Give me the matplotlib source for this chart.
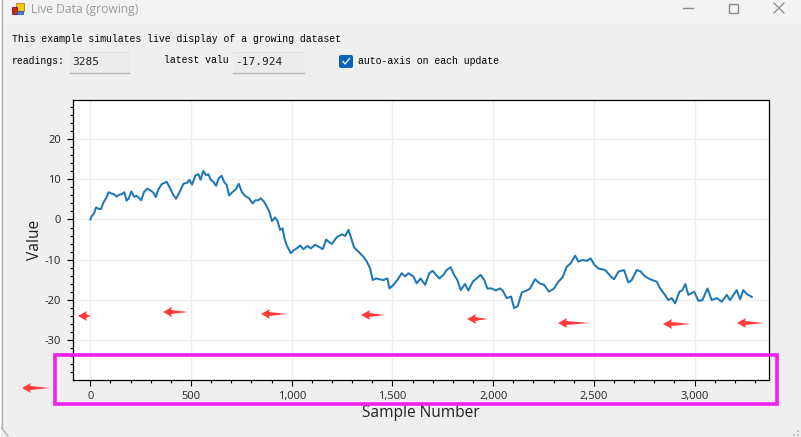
import matplotlib
matplotlib.use("Agg")
import matplotlib.pyplot as plt
from matplotlib.patches import Rectangle, Polygon, FancyBboxPatch
from matplotlib.ticker import MultipleLocator, FuncFormatter

W = 801
H = 437

samples = [0, 8, 18, 28, 40, 53, 65, 78, 91, 104, 118, 131, 144, 157, 169, 180, 190, 204, 217, 230,
           243, 253, 267, 283, 300, 313, 325, 338, 354, 379, 396, 412, 426, 442, 462, 482, 492, 505, 522, 537,
           547, 561, 575, 586, 598, 611, 624, 638, 652, 664, 677, 689, 707, 722, 737, 752, 768, 788, 805, 820,
           835, 846, 863, 876, 889, 902, 917, 929, 942, 954, 964, 975, 995, 1012, 1025, 1042, 1058, 1078, 1095, 1116,
           1138, 1154, 1171, 1182, 1199, 1224, 1249, 1265, 1282, 1293, 1310, 1331, 1356, 1373, 1389, 1402, 1419, 1435, 1455, 1475,
           1485, 1505, 1524, 1546, 1563, 1579, 1604, 1620, 1640, 1662, 1683, 1700, 1716, 1733, 1753, 1769, 1789, 1806, 1822, 1839,
           1860, 1877, 1899, 1918, 1938, 1956, 1971, 1993, 2013, 2034, 2047, 2067, 2089, 2104, 2122, 2142, 2167, 2183, 2208, 2230,
           2253, 2277, 2302, 2324, 2345, 2365, 2385, 2407, 2423, 2443, 2465, 2484, 2503, 2522, 2556, 2584, 2600, 2622, 2650, 2671,
           2688, 2713, 2733, 2754, 2779, 2812, 2829, 2853, 2870, 2887, 2903, 2925, 2938, 2954, 2969, 2998, 3019, 3039, 3064, 3085,
           3110, 3135, 3160, 3176, 3209, 3226, 3242, 3259, 3284]
values = [0.0, 0.9, 1.5, 3.0, 2.7, 2.6, 4.2, 5.3, 6.8, 6.5, 6.3, 5.7, 6.2, 6.3, 6.8, 4.7, 5.2, 7.0, 5.7, 5.9,
          5.3, 4.8, 6.9, 7.7, 7.2, 6.7, 5.6, 7.5, 8.8, 9.4, 7.8, 6.1, 5.2, 6.7, 8.9, 9.2, 9.9, 8.7, 11.0, 11.3,
          9.9, 12.1, 11.0, 11.3, 9.9, 9.4, 8.4, 10.3, 10.9, 9.4, 8.6, 6.0, 6.9, 7.5, 8.9, 6.9, 5.9, 5.3, 4.0, 4.8,
          4.8, 5.3, 4.4, 3.2, 1.9, -0.4, 0.5, -0.3, -2.6, -2.2, -4.7, -6.4, -8.4, -7.6, -7.2, -6.5, -7.4, -6.6, -7.2, -6.3,
          -6.9, -7.4, -5.0, -5.5, -6.1, -4.4, -3.7, -4.1, -2.6, -4.3, -7.0, -8.0, -9.3, -10.5, -12.2, -15.1, -14.7, -14.9, -15.1, -14.7,
          -17.2, -16.3, -15.1, -13.4, -14.2, -13.4, -14.2, -15.9, -14.7, -16.3, -13.4, -12.8, -13.8, -14.7, -13.8, -12.6, -11.9, -13.8, -15.1, -17.6,
          -16.1, -17.7, -15.5, -14.7, -13.8, -15.1, -17.2, -17.2, -17.7, -17.2, -17.7, -19.6, -19.2, -22.1, -21.6, -18.2, -17.7, -17.2, -14.9, -15.9,
          -16.3, -18.0, -17.2, -15.5, -14.4, -11.8, -10.9, -9.0, -10.5, -10.1, -10.3, -9.7, -11.3, -12.2, -12.6, -14.2, -14.9, -13.0, -12.6, -15.7,
          -15.1, -12.6, -13.0, -14.2, -14.9, -15.5, -17.2, -18.8, -20.1, -19.6, -20.9, -18.0, -17.7, -16.1, -18.8, -18.0, -20.3, -20.1, -17.2, -20.1,
          -19.6, -20.5, -18.8, -20.1, -17.6, -19.9, -17.6, -18.6, -19.3]

# red arrows on top of the screenshot: tip x, tail x, y (pixels)
arrows = [(78, 91, 316), (163, 188, 312), (261, 287, 314), (361, 385, 315), (467, 488, 319),
          (558, 590, 323), (663, 691, 324), (737, 764, 323), (22, 50, 388)]

fig = plt.figure(figsize=(W / 100, H / 100), dpi=100, facecolor="#efefef")

# window chrome, in pixels
bg = fig.add_axes([0, 0, 1, 1], zorder=0)
bg.set_xlim(0, W)
bg.set_ylim(H, 0)
bg.axis("off")
bg.add_patch(Rectangle((0, 0), W, 24, fc="#f3f3f3", ec="none"))
bg.plot([1.5, 1.5], [0, 428], color="#b4b4b4", lw=1)
bg.plot([1.5, 8], [428, 436], color="#b4b4b4", lw=1)
bg.add_patch(Rectangle((0, 0), 1, H, fc="#ffffff", ec="none"))

# icon
bg.add_patch(Rectangle((16, 3), 8, 8, fc="#f5c518", ec="#b08a10", lw=0.6))
bg.add_patch(Rectangle((12, 7), 5, 7, fc="#c8281e", ec="#801810", lw=0.6))
bg.add_patch(Rectangle((17, 11), 6, 3, fc="#4a86d8", ec="#2a5aa0", lw=0.6))

bg.text(31, 9.5, "Live Data (growing)", color="#9a9a9a", fontsize=8.7, family="Open Sans", va="center")

# window buttons
bg.plot([683, 693], [8, 8], color="#8c8c8c", lw=1)
bg.add_patch(Rectangle((728.5, 3.5), 9, 9, fc="none", ec="#8c8c8c", lw=1))
bg.plot([774, 784], [3, 13], color="#8c8c8c", lw=0.9)
bg.plot([774, 784], [13, 3], color="#8c8c8c", lw=0.9)

mono = "Liberation Mono"
bg.text(12, 38.5, "This example simulates live display of a growing dataset", fontsize=7.13, family=mono, va="center", color="black")
bg.text(12, 60.5, "readings:", fontsize=7.13, family=mono, va="center", color="black")
bg.text(164, 60, "latest valu", fontsize=7.13, family=mono, va="center", color="black")
bg.text(358, 61.5, "auto-axis on each update", fontsize=7.13, family=mono, va="center", color="black")

for x0, x1, label in [(70, 129, "3285"), (233, 304, "-17.924")]:
    bg.add_patch(Rectangle((x0, 52), x1 - x0, 21, fc="#ebebeb", ec="none"))
    bg.plot([x0, x1], [73, 73], color="#b8b8b8", lw=1)
    bg.plot([x0, x1], [52, 52], color="#e2e2e2", lw=0.8)
    bg.text(x0 + 2, 62, label, fontsize=8, family="DejaVu Sans Mono", va="center", color="#222222")

bg.add_patch(FancyBboxPatch((341, 57), 10, 9, boxstyle="round,pad=2,rounding_size=2", fc="#0a63bd", ec="none"))
bg.plot([343, 345, 349.5], [61.5, 64, 58.5], color="white", lw=0.9)

# resize grip
for gx, gy in [(797, 430), (797, 434), (793, 434)]:
    bg.add_patch(Rectangle((gx, gy), 2, 2, fc="#c4c4c4", ec="none"))

# the chart
ax = fig.add_axes([73 / W, 1 - 379.5 / H, 695.5 / W, 279.5 / H], zorder=1)
ax.set_facecolor("white")
ax.plot(samples, values, color="#1f77b4", lw=1.45, solid_joinstyle="round")
ax.set_xlim(-86, 3367)
ax.set_ylim(-39.9, 29.8)
ax.xaxis.set_major_locator(MultipleLocator(500))
ax.xaxis.set_minor_locator(MultipleLocator(100))
ax.yaxis.set_major_locator(MultipleLocator(10))
ax.yaxis.set_minor_locator(MultipleLocator(2))
ax.xaxis.set_major_formatter(FuncFormatter(lambda v, p: f"{int(v):,}"))
ax.yaxis.set_major_formatter(FuncFormatter(lambda v, p: f"{int(v)}"))
ax.grid(True, which="major", color="#eeeeee", lw=1)
ax.set_axisbelow(True)
ax.tick_params(which="major", length=4.5, width=0.8, labelsize=8, pad=4, labelcolor="#222222")
ax.tick_params(which="minor", length=2.2, width=0.8)
for lab in ax.get_xticklabels() + ax.get_yticklabels():
    lab.set_family("Open Sans")
for s in ax.spines.values():
    s.set_linewidth(0.9)
ax.set_xlabel("Sample Number", fontsize=11.2, family="Open Sans", color="#222222", labelpad=2)
ax.set_ylabel("Value", fontsize=11.2, family="Open Sans", color="#222222", labelpad=1)

# annotations over everything
top = fig.add_axes([0, 0, 1, 1], zorder=2)
top.set_xlim(0, W)
top.set_ylim(H, 0)
top.axis("off")
top.patch.set_alpha(0)
top.add_patch(Rectangle((54.5, 354.7), 722.5, 49.6, fc="none", ec="#f020f0", lw=2.6))
for tip, tail, y in arrows:
    top.add_patch(Polygon([(tip, y), (tip + 9, y - 5), (tip + 8, y - 2), (tail, y),
                           (tip + 8, y + 2), (tip + 9, y + 5)], closed=True, fc="#ff3b3b", ec="none"))

fig.savefig("out.png", dpi=100, facecolor=fig.get_facecolor())
